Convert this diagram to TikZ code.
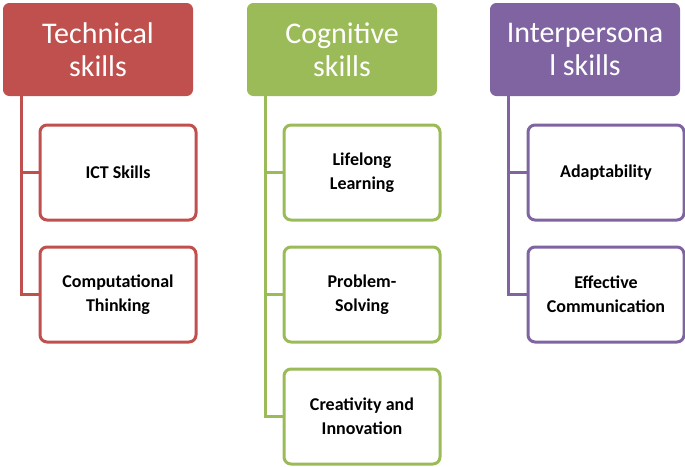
\documentclass[tikz,border=0pt]{standalone}
\usepackage{fontspec}
\setmainfont{Carlito}
\definecolor{cr}{HTML}{C0504D}
\definecolor{cg}{HTML}{9BBB59}
\definecolor{cp}{HTML}{8064A2}
\begin{document}
\begin{tikzpicture}[x=1pt,y=-1pt,
 head/.style={draw=#1,fill=#1,rounded corners=6pt,minimum width=189pt,minimum height=92pt,anchor=north west,text=white,font=\fontsize{30}{33}\selectfont,align=center,inner sep=0pt,line width=1pt},
 child/.style={draw=#1,fill=white,rounded corners=7pt,minimum width=156pt,minimum height=95pt,anchor=north west,font=\bfseries\fontsize{18}{24}\selectfont,align=center,line width=3pt,inner sep=0pt},
 conn/.style={draw=#1,line width=3pt}]
\useasboundingbox (0,0) rectangle (685,466);
\node[head=cr] (t) at (3,3) {Technical\\skills};
\node[head=cg] (c) at (247,3) {Cognitive\\skills};
\node[head=cp] (i) at (490,3) {Interpersona\\l skills};
\node[child=cr] (t1) at (38.5,123.5) {ICT Skills};
\node[child=cr] (t2) at (38.5,245.5) {Computational\\Thinking};
\node[child=cg] (c1) at (282.5,123.5) {Lifelong\\Learning};
\node[child=cg] (c2) at (282.5,245.5) {Problem-\\Solving};
\node[child=cg] (c3) at (282.5,367.5) {Creativity and\\Innovation};
\node[child=cp] (i1) at (526.5,123.5) {Adaptability};
\node[child=cp] (i2) at (526.5,245.5) {Effective\\Communication};
\coordinate (tb) at (21,95);
\coordinate (cb) at (265,95);
\coordinate (ib) at (508,95);
\draw[conn=cr] (tb) |- (t1.west);
\draw[conn=cr] (tb) |- (t2.west);
\draw[conn=cg] (cb) |- (c1.west);
\draw[conn=cg] (cb) |- (c2.west);
\draw[conn=cg] (cb) |- (c3.west);
\draw[conn=cp] (ib) |- (i1.west);
\draw[conn=cp] (ib) |- (i2.west);
\end{tikzpicture}
\end{document}
